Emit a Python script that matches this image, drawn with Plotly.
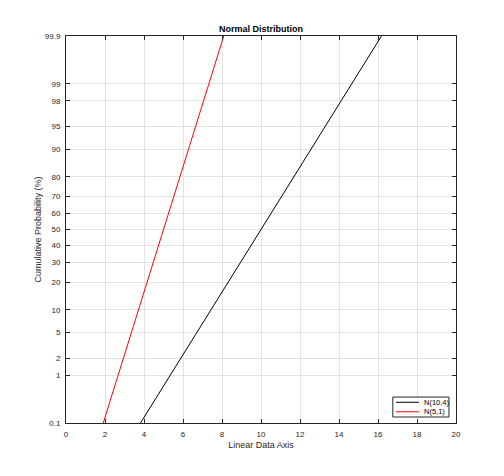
from statistics import NormalDist
import plotly.graph_objects as go

# probability ticks shown on the probit axis (%)
prob_ticks = [0.1, 1, 2, 5, 10, 20, 30, 40, 50, 60, 70, 80, 90, 95, 98, 99, 99.9]
prob_labels = ["0.1", "1", "2", "5", "10", "20", "30", "40", "50", "60",
               "70", "80", "90", "95", "98", "99", "99.9"]

# line end points
series_names = ["N(10,4)", "N(5,1)"]
series_colors = ["black", "red"]
n10_x = [3.82, 16.18]
n10_p = [0.1, 99.9]
n5_x = [1.91, 8.09]
n5_p = [0.1, 99.9]

nd = NormalDist()


def probit(p_list):
    # maps percent to the normal-probability axis position
    return [nd.inv_cdf(p / 100.0) for p in p_list]


axis_col = "#262626"
grid_col = "#e3e3e3"

fig = go.Figure()

fig.add_trace(go.Scatter(
    x=n10_x, y=probit(n10_p), mode="lines", name=series_names[0],
    line=dict(color=series_colors[0], width=1)
))
fig.add_trace(go.Scatter(
    x=n5_x, y=probit(n5_p), mode="lines", name=series_names[1],
    line=dict(color=series_colors[1], width=1)
))

z_ticks = probit(prob_ticks)

# small MATLAB-like legend box, drawn by hand (plotly's legend rows are too tall)
shapes = [dict(type="rect", xref="paper", yref="paper",
               x0=0.838, x1=0.982, y0=0.0155, y1=0.067,
               line=dict(color=axis_col, width=1), fillcolor="white", layer="above")]
annotations = []
row_y = [0.0535, 0.029]
for name, col, ry in zip(series_names, series_colors, row_y):
    shapes.append(dict(type="line", xref="paper", yref="paper",
                       x0=0.846, x1=0.905, y0=ry, y1=ry,
                       line=dict(color=col, width=1), layer="above"))
    annotations.append(dict(text=name, xref="paper", yref="paper",
                            x=0.914, y=ry, xanchor="left", yanchor="middle",
                            showarrow=False, font=dict(size=7.5, color="black")))

fig.update_layout(
    width=504,
    height=476,
    margin=dict(l=58, r=56, t=28, b=61),
    paper_bgcolor="white",
    plot_bgcolor="white",
    font=dict(family="Liberation Sans, Arial, sans-serif", size=8, color=axis_col),
    title=dict(text="<b>Normal Distribution</b>", x=0.5, xanchor="center", xref="paper",
               y=1 - 21 / 476, yanchor="middle", font=dict(size=9, color="black")),
    showlegend=False,
    shapes=shapes,
    annotations=annotations,
)

fig.update_xaxes(
    range=[0, 20], tickvals=list(range(0, 21, 2)),
    showgrid=True, gridcolor=grid_col, gridwidth=1,
    zeroline=False, showline=True, linecolor=axis_col, linewidth=1,
    mirror="ticks", ticks="inside", ticklen=4, tickcolor=axis_col,
    ticklabelstandoff=3,
    title=dict(text="Linear Data Axis", font=dict(size=9), standoff=4),
)
fig.update_yaxes(
    range=[z_ticks[0], z_ticks[-1]], tickvals=z_ticks, ticktext=prob_labels,
    showgrid=True, gridcolor=grid_col, gridwidth=1,
    zeroline=False, showline=True, linecolor=axis_col, linewidth=1,
    mirror="ticks", ticks="inside", ticklen=4, tickcolor=axis_col,
    ticklabelstandoff=3,
    title=dict(text="Cumulative Probability (%)", font=dict(size=9), standoff=1),
)

fig.write_html("out.html")
